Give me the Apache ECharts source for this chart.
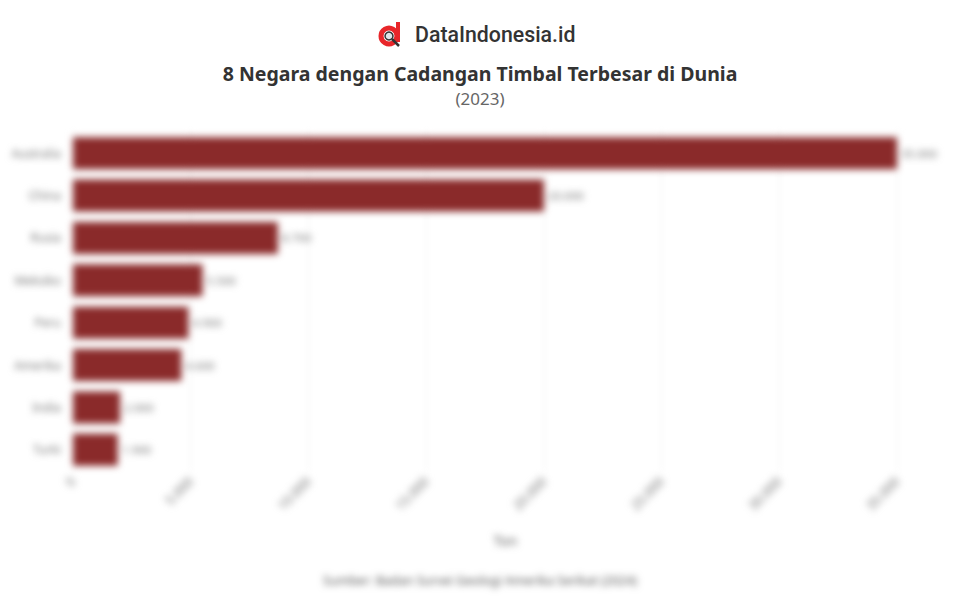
<!DOCTYPE html>
<html><head><meta charset="utf-8">
<style>
html,body{margin:0;padding:0;background:#fff;width:960px;height:600px;overflow:hidden}
#plot,#head{position:absolute;left:0;top:0;width:960px;height:600px}
#plot{filter:blur(3.5px)}
</style>
<script src="https://cdn.jsdelivr.net/npm/echarts@6/dist/echarts.min.js"></script>
</head><body>
<div id="plot"></div><div id="head"></div>
<script>
const categories = ["Australia","China","Rusia","Meksiko","Peru","Amerika","India","Turki"];
const reserves = [35000,20000,8700,5500,4900,4600,2000,1900];
const axisMax = 35000;
const axisStep = 5000;
const brand = "DataIndonesia.id";
const titleText = "8 Negara dengan Cadangan Timbal Terbesar di Dunia";
const subtitleText = "(2023)";
const axisName = "Ton";
const sourceText = "Sumber: Badan Survei Geologi Amerika Serikat (2024)";
const fmt = v => v.toLocaleString("de-DE");

const plot = echarts.init(document.getElementById("plot"), null, {renderer:"svg"});
plot.setOption({
  animation:false,
  grid:{left:73,right:63,top:132,bottom:129,containLabel:false},
  graphic:[{type:"text",left:"center",top:574,style:{text:sourceText,font:'12.5px "Noto Sans"',fill:"#555"}}],
  xAxis:{type:"value",min:0,max:axisMax,interval:axisStep,
    name:axisName,nameLocation:"middle",nameGap:62,nameTextStyle:{color:"#666",fontSize:14,fontFamily:"Noto Sans",padding:[0,0,0,41]},
    axisLine:{show:false},axisTick:{show:false},
    splitLine:{lineStyle:{color:"#f2f2f2",width:1}},
    axisLabel:{rotate:45,color:"#777",fontSize:13,fontFamily:"Noto Sans",margin:8,lineHeight:34,formatter:fmt}},
  yAxis:{type:"category",inverse:true,data:categories,
    axisLine:{show:false},axisTick:{show:false},
    axisLabel:{color:"#777",fontSize:12,fontFamily:"Noto Sans",margin:12}},
  series:[{type:"bar",data:reserves,barWidth:32,itemStyle:{color:"#8a2a2a"},
    label:{show:true,position:"right",distance:4,color:"#777",fontSize:11.5,fontFamily:"Noto Sans",formatter:p=>fmt(p.value)}}]
});

const head = echarts.init(document.getElementById("head"), null, {renderer:"svg"});
head.setOption({
  animation:false,
  title:[
    {text:titleText,left:"center",top:58,textStyle:{color:"#333",fontSize:19.5,fontWeight:700,fontFamily:"Noto Sans"}},
    {text:subtitleText,left:"center",top:85,textStyle:{color:"#666",fontSize:17,fontWeight:400,fontFamily:"Noto Sans"}}
  ],
  graphic:[
    {type:"text",left:415,top:24,style:{text:brand,font:'500 21.3px Roboto',fill:"#333"}},
    {type:"circle",shape:{cx:389,cy:36,r:8},style:{fill:"none",stroke:"#e8262a",lineWidth:5}},
    {type:"rect",shape:{x:396,y:22,width:4,height:20},style:{fill:"#e8262a"}},
    {type:"circle",shape:{cx:389,cy:36,r:4},style:{fill:"#dfe6ea",stroke:"#333",lineWidth:1.5}},
    {type:"line",shape:{x1:392,y1:39,x2:399,y2:46},style:{stroke:"#333",lineWidth:2.5}}
  ]
});
</script>
</body></html>
